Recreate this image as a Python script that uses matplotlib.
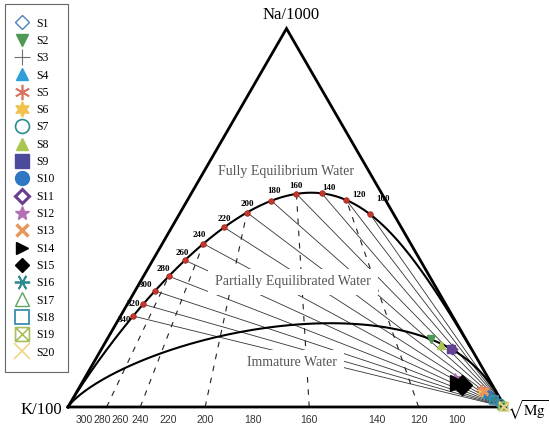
import numpy as np
import matplotlib
matplotlib.use("Agg")
import matplotlib.pyplot as plt
from matplotlib.lines import Line2D
from matplotlib.path import Path

plt.rcParams['mathtext.fontset'] = 'stix'

# ---------------- data ----------------
# Giggenbach geothermometer constants
KN_A, KN_B = 1.75, 1390.0      # log(K/Na)  = KN_A - KN_B/T
KM_A, KM_B = 14.0, 4410.0      # log(K2/Mg) = KM_A - KM_B/T
MI_SLOPE, MI_VALUE = 0.315, 2.0  # immature-water boundary

curve_temps = [100, 120, 140, 160, 180, 200, 220, 240, 260, 280, 300, 320, 340]
dashed_temps = [120, 160, 200, 240, 280]
bottom_temps = [100, 120, 140, 160, 180, 200, 220, 240, 260, 280, 300]

samples = ["S1", "S2", "S3", "S4", "S5", "S6", "S7", "S8", "S9", "S10",
           "S11", "S12", "S13", "S14", "S15", "S16", "S17", "S18", "S19", "S20"]
# ternary percentages (Na/1000, K/100, sqrt(Mg))
na_pct = [1.3, 18.0, 0.8, 3.7, 4.8, 4.0, 1.1, 16.4, 15.3, 3.2,
          15.2, 7.9, 4.2, 6.3, 5.8, 2.4, 0.5, 1.8, 0.3, 0.1]
k_pct = [1.2, 7.9, 1.0, 2.5, 3.1, 3.3, 0.6, 6.5, 4.7, 2.3,
         4.5, 7.5, 2.7, 7.6, 6.9, 2.0, 0.7, 1.6, 0.3, 0.1]
mg_pct = [97.5, 74.1, 98.2, 93.8, 92.1, 92.7, 98.3, 77.1, 80.0, 94.5,
          80.3, 84.6, 93.1, 86.1, 87.3, 95.6, 98.8, 96.6, 99.4, 99.8]

# ---------------- helpers ----------------
SQ3 = np.sqrt(3) / 2


def tern(na, k, mg):
    na, k, mg = map(lambda a: np.asarray(a, float), (na, k, mg))
    s = na + k + mg
    n, m = na / s, mg / s
    return m + n / 2, n * SQ3


def eq_point(T):
    tk = np.asarray(T, float) + 273.15
    lkn = KN_A - KN_B / tk
    lkm = KM_A - KM_B / tk
    k = 1.0
    na = (100.0 / 10 ** lkn) / 1000.0
    mg = 100.0 / 10 ** (lkm / 2)
    return tern(na, k, mg)


def km_foot(T):
    tk = np.asarray(T, float) + 273.15
    lkm = KM_A - KM_B / tk
    mg = 100.0 / 10 ** (lkm / 2)
    return tern(np.zeros_like(mg), np.ones_like(mg), mg)


# pixel frame of the picture
X0, Y0, S = 68.0, 407.0, 437.0


def px(x, y):
    return (x - X0) / S, (Y0 - y) / S


fig = plt.figure(figsize=(5.5, 4.28), dpi=100)
ax = fig.add_axes([0, 0, 1, 1])
ax.set_xlim(-X0 / S, (550 - X0) / S)
ax.set_ylim((Y0 - 428) / S, Y0 / S)
ax.axis('off')

serif = ['Liberation Serif', 'DejaVu Serif']

# triangle
ax.plot([0, 1, 0.5, 0], [0, 0, SQ3, 0], color='black', lw=2.0, zorder=4,
        solid_joinstyle='miter')

# solid K/Na isotherms from sqrt(Mg) corner
cx, cy = eq_point(curve_temps)
for x, y in zip(cx, cy):
    ax.plot([x, 1], [y, 0], color='#333333', lw=0.6, zorder=1)

# dashed K/Mg isotherms
dx, dy = eq_point(dashed_temps)
fx, fy = km_foot(dashed_temps)
for x1, y1, x2, y2 in zip(fx, fy, dx, dy):
    ax.plot([x1, x2], [y1, y2], color='#222222', lw=0.8, zorder=1,
            dashes=(5, 6))

# full equilibrium curve
Tc = np.concatenate([np.linspace(0, 400, 401), np.geomspace(400, 20000, 300)])
ex, ey = eq_point(Tc)
ax.plot(ex, ey, color='black', lw=1.5, zorder=3)

# immature water curve
t = np.linspace(-14, 22, 800)
ix, iy = tern(10 ** (1 - MI_SLOPE * t + (MI_VALUE - 2.0)), np.ones_like(t), 100.0 / 10 ** (t / 2))
ax.plot(ix, iy, color='black', lw=1.5, zorder=3)

# red temperature points and labels
ax.plot(cx, cy, 'o', color='#c0392b', ms=4, zorder=6, mec='#a02020', mew=0.5)
lab_off = {100: (9, 11), 120: (9, 4), 140: (5, 4), 160: (0, 6), 180: (2, 7),
           200: (0, 6), 220: (0, 6), 240: (-3, 6), 260: (-2, 5), 280: (-4, 5),
           300: (-7, 4), 320: (-7, 0), 340: (-6, -3)}
for T, x, y in zip(curve_temps, cx, cy):
    ax.annotate(str(T), (x, y), xytext=lab_off[T], textcoords='offset points',
                ha='center', va='center', fontsize=6.5, fontweight='bold',
                family=serif, zorder=7)

# bottom labels
bx, _ = km_foot(bottom_temps)
bot_shift = {300: -12, 280: -4, 140: 10}
for T, x in zip(bottom_temps, bx):
    ax.text(x + bot_shift.get(T, 0) / S, px(0, 420)[1], str(T), ha='center',
            va='center', fontsize=7.5, family=['Liberation Sans', 'DejaVu Sans'],
            color='#333333')

# region texts
box = dict(facecolor='white', edgecolor='none', pad=5)
for txt, (x, y) in [("Fully Equilibrium Water", (286, 172)),
                    ("Partially Equilibrated Water", (293, 282)),
                    ("Immature Water", (292, 363))]:
    ax.text(*px(x, y), txt, ha='center', va='center', fontsize=10,
            family=serif, color='#555555', bbox=box, zorder=2)

# vertex labels
ax.text(*px(291, 15), "Na/1000", ha='center', va='center', fontsize=12, family=serif)
ax.text(*px(41, 410), "K/100", ha='center', va='center', fontsize=12, family=serif)
ax.text(*px(507, 410), r"$\sqrt{\mathrm{Mg}}$", ha='left', va='center', fontsize=11)

# markers
sqx = Path([(-1, -1), (1, -1), (1, 1), (-1, 1), (-1, -1), (-1, -1), (1, 1), (-1, 1), (1, -1)],
           [Path.MOVETO, Path.LINETO, Path.LINETO, Path.LINETO, Path.CLOSEPOLY,
            Path.MOVETO, Path.LINETO, Path.MOVETO, Path.LINETO])
styles = [
    dict(marker='D', mfc='none', mec='#4f81bd', mew=1.0, ms=7),
    dict(marker='v', mfc='#4e9a55', mec='#4e9a55', ms=9),
    dict(marker='+', mfc='none', mec='#707070', mew=0.8, ms=11),
    dict(marker='^', mfc='#2e9fd9', mec='#2e9fd9', ms=9),
    dict(marker=(6, 2, 0), mfc='none', mec='#d9735f', mew=1.2, ms=11),
    dict(marker=(6, 1, 0), mfc='#f2c14e', mec='#f2c14e', ms=11),
    dict(marker='o', mfc='none', mec='#2b8c8c', mew=1.2, ms=10),
    dict(marker='^', mfc='#a9c651', mec='#a9c651', ms=9),
    dict(marker='s', mfc='#4b4b9c', mec='#4b4b9c', ms=10),
    dict(marker='o', mfc='#2f77c3', mec='#2f77c3', ms=10),
    dict(marker='D', mfc='none', mec='#6b3f8f', mew=2.2, ms=7),
    dict(marker='*', mfc='#b36fb3', mec='#b36fb3', ms=10),
    dict(marker='x', mfc='none', mec='#e9955b', mew=2.5, ms=9),
    dict(marker='>', mfc='black', mec='black', ms=9),
    dict(marker='D', mfc='black', mec='black', ms=7),
    dict(marker=(6, 2, 90), mfc='none', mec='#2e8b8b', mew=1.3, ms=11),
    dict(marker='^', mfc='none', mec='#5ea55e', mew=1.0, ms=10),
    dict(marker='s', mfc='none', mec='#3b8bb3', mew=1.3, ms=10),
    dict(marker=sqx, mfc='none', mec='#a6bf5e', mew=1.2, ms=10),
    dict(marker='x', mfc='none', mec='#f2d38a', mew=1.2, ms=12),
]
plot_scale = {13: 1.3, 14: 1.4}
sx, sy = tern(na_pct, k_pct, mg_pct)
handles = []
for i, (name, st) in enumerate(zip(samples, styles)):
    f = plot_scale.get(i, 0.6)
    ps = dict(st)
    ps['ms'] = st['ms'] * f
    ax.plot([sx[i]], [sy[i]], linestyle='none', zorder=8, **ps)
    handles.append(Line2D([], [], linestyle='none', **st))

leg = ax.legend(handles, samples, loc='upper left',
                bbox_to_anchor=(5 / 550, 1 - 4 / 428), bbox_transform=fig.transFigure,
                frameon=True, fancybox=False, edgecolor='#666666', framealpha=1,
                prop=dict(family=serif, size=8.5), handlelength=0.6,
                handletextpad=0.9, labelspacing=0.45, borderpad=1.15,
                borderaxespad=0)
leg.get_frame().set_linewidth(0.8)

fig.savefig("out.png", dpi=100)
